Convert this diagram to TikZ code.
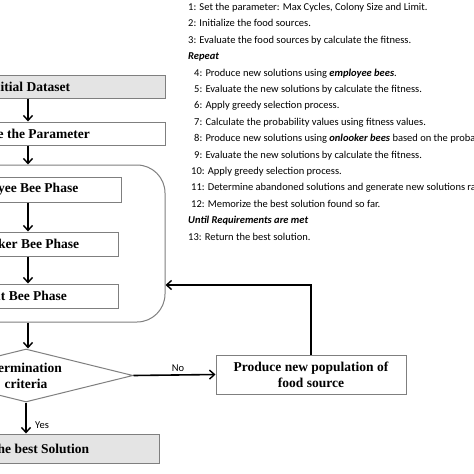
\documentclass[tikz,border=0pt]{standalone}
\usepackage{fontspec}
\setmainfont{Liberation Serif}
\newfontfamily\calib{Carlito}
\usetikzlibrary{shapes.geometric,arrows.meta}
\definecolor{boxgray}{HTML}{7F7F7F}
\definecolor{fillgray}{HTML}{E4E4E4}
\begin{document}
\begin{tikzpicture}[x=1pt,y=-1pt,
  box/.style={draw=boxgray, line width=1pt, inner sep=0pt,
    font=\fontsize{13.5}{15.5}\selectfont\bfseries},
  gbox/.style={box, fill=fillgray},
  arr/.style={line width=1.6pt, -{Straight Barb[length=5pt,width=9pt,line width=1.4pt]}},
  alg/.style={anchor=base west, inner sep=0pt, font=\calib\fontsize{10.5}{12}\selectfont},
  lab/.style={inner sep=0pt, font=\calib\fontsize{10.5}{12}\selectfont}]
\useasboundingbox (0,0) rectangle (474,474);
\clip (0,0) rectangle (474,474);
\fill[white] (0,0) rectangle (474,474);

\coordinate (col) at (28,0);

% container
\node[draw=boxgray, line width=1pt, rounded corners=28pt, minimum width=285pt,
  minimum height=157pt, inner sep=0pt] (loop) at (22.5,243.5) {};

% boxes
\node[gbox, minimum width=272pt, minimum height=23pt] (init) at (29,86.5) {Initial Dataset};
\node[box, minimum width=274pt, minimum height=23pt] (param) at (28,133.5) {Define the Parameter};
\node[box, minimum width=204pt, minimum height=25pt] (emp) at (19,189.5) {Employee Bee Phase};
\node[box, minimum width=194pt, minimum height=24pt] (onl) at (21,244) {Onlooker Bee Phase};
\node[box, minimum width=196pt, minimum height=24pt] (scout) at (20,296) {Scout Bee Phase};
\node[draw=boxgray, line width=1pt, shape=diamond, aspect=4, inner sep=0pt,
  minimum width=214pt, minimum height=53pt, align=center,
  font=\fontsize{13.5}{16}\selectfont\bfseries] (dec) at (26,375.5) {Termination\\criteria};
\node[gbox, minimum width=260pt, minimum height=29pt] (best) at (29,448.5) {Get the best Solution};
\node[box, minimum width=190pt, minimum height=39pt, align=center,
  font=\fontsize{13.5}{16}\selectfont\bfseries] (prod) at (311,374.5) {Produce new population of\\food source};

% arrows
\draw[arr] (init.south -| col) -- (param.north -| col);
\draw[arr] (param.south -| col) -- (loop.north -| col);
\draw[arr] (emp.south -| col) -- (onl.north -| col);
\draw[arr] (onl.south -| col) -- (scout.north -| col);
\draw[arr] (loop.south -| col) -- (dec.north -| col);
\draw[arr] (dec.south) -- (dec.south |- best.north);
\draw[arr] (dec.east) -- (prod.west);
\coordinate (fb) at (311,285);
\draw[arr] (prod.north) -- (fb) -- (fb -| loop.east);

\node[lab] (no) at (178,368) {No};
\node[lab] (yes) at (42,425) {Yes};

% algorithm
\node[alg] (a1) at (188,10.5) {1: Set the parameter: Max Cycles, Colony Size and Limit.};
\node[alg] (a2) at (188,26.9) {2: Initialize the food sources.};
\node[alg] (a3) at (188,43.3) {3: Evaluate the food sources by calculate the fitness.};
\node[alg] (a4) at (188,59.7) {\bfseries\itshape Repeat};
\node[alg] (a5) at (194,76.1) {4: Produce new solutions using \textbf{\textit{employee bees}}.};
\node[alg] (a6) at (194,92.5) {5: Evaluate the new solutions by calculate the fitness.};
\node[alg] (a7) at (194,108.9) {6: Apply greedy selection process.};
\node[alg] (a8) at (194,125.3) {7: Calculate the probability values using fitness values.};
\node[alg] (a9) at (194,141.7) {8: Produce new solutions using \textbf{\textit{onlooker bees}} based on the probability values.};
\node[alg] (a10) at (194,158.1) {9: Evaluate the new solutions by calculate the fitness.};
\node[alg] (a11) at (191,174.5) {10: Apply greedy selection process.};
\node[alg] (a12) at (191,190.9) {11: Determine abandoned solutions and generate new solutions randomly using scout bees.};
\node[alg] (a13) at (191,207.3) {12: Memorize the best solution found so far.};
\node[alg] (a14) at (188,223.7) {\bfseries\itshape Until Requirements are met};
\node[alg] (a15) at (188,240.1) {13: Return the best solution.};
\end{tikzpicture}
\end{document}
